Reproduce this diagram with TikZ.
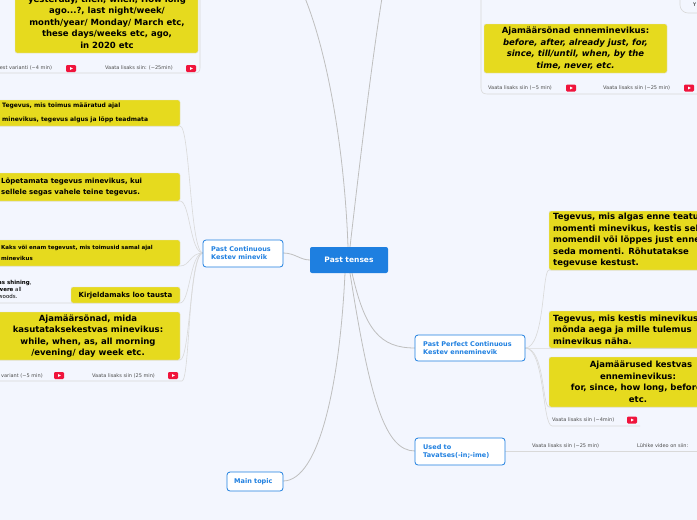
\documentclass[tikz,border=0pt]{standalone}
\usepackage{fontspec}
\setmainfont{DejaVu Sans}
\begin{document}
\begin{tikzpicture}[x=1pt,y=-1pt,
  yel/.style={fill=ybox,rounded corners=2pt,draw=black!12,line width=0.4pt},
  topic/.style={draw=tblue,fill=white,rounded corners=3pt,line width=0.8pt},
  ttxt/.style={text=tblue,font=\bfseries\fontsize{6.5}{8}\selectfont,align=left,anchor=west,inner sep=0},
  btxt/.style={font=\bfseries\fontsize{8.5}{11.5}\selectfont,align=center,inner sep=0},
  stxt/.style={font=\bfseries\fontsize{6}{14}\selectfont,align=left,anchor=west,inner sep=0},
  ftxt/.style={font=\fontsize{5}{6}\selectfont,text=black!70,anchor=west,inner sep=0},
  con/.style={draw=black!25,line width=0.8pt},
  sub/.style={draw=black!15,line width=0.6pt}]
\definecolor{ybox}{HTML}{E6DA1E}
\definecolor{tblue}{HTML}{1E7FE0}
\definecolor{bg}{HTML}{F3F6FE}
\definecolor{ytred}{HTML}{F0143C}
\newcommand{\yt}[2]{\fill[ytred,rounded corners=1.2pt] (#1,#2) rectangle ++(10,7);\fill[white] (#1+4,#2+2) -- ++(0,3) -- ++(2.8,-1.5) -- cycle;}
\fill[bg] (0,0) rectangle (697,520);
\useasboundingbox (0,0) rectangle (697,520);
\clip (0,0) rectangle (697,520);
% connectors
\coordinate (ctop1) at (305,-2);
\coordinate (ctop2) at (382,-2);
\draw[con] (348,247) .. controls (345,160) and (330,60) .. (ctop1);
\draw[con] (350,247) .. controls (360,160) and (372,60) .. (ctop2);
\draw[con] (310,260) .. controls (300,260) and (295,253) .. (283,253);
\draw[con] (345,273) .. controls (340,380) and (320,481) .. (283,481);
\draw[con] (352,273) .. controls (365,330) and (380,348) .. (415,348);
\draw[con] (350,273) .. controls (370,400) and (385,451) .. (415,451);
% left branch
\draw[sub] (200,-2) -- (200,68) .. controls (200,72) and (198,73) .. (194,73) -- (0,73);
\foreach \yy in {126,201,266,303,360}{
  \draw[sub] (203,253) .. controls (190,253) and (190,\yy) .. (180,\yy) -- (0,\yy);}
\draw[sub] (203,253) .. controls (188,253) and (190,380) .. (182,381) -- (0,381);
% right top branch
\draw[sub] (481,-2) -- (481,88) .. controls (481,92) and (483,94) .. (487,94) -- (697,94);
\draw[sub, rounded corners=8pt] (680,-2) -- (680,13) -- (697,13);
\node[font=\fontsize{5}{6}\selectfont,anchor=west,inner sep=0] at (693,5) {Y};
% PPC branch
\foreach \yy in {270,348,407}{
  \draw[sub] (525,348) .. controls (545,348) and (542,\yy) .. (549,\yy) -- (697,\yy);}
\draw[sub] (525,348) .. controls (545,348) and (542,425) .. (552,426) -- (640,426);
\draw[sub] (505,451) -- (697,451);
% center
\node[fill=tblue,rounded corners=2pt,minimum width=78pt,minimum height=26pt,text=white,font=\bfseries\fontsize{7.5}{9}\selectfont] (c) at (349,260) {Past tenses};
% topics
\draw[topic] (203,240) rectangle (283,267);
\node[ttxt] (pc) at (211,253.5) {Past Continuous\\Kestev minevik};
\draw[topic] (415,335) rectangle (525,361);
\node[ttxt] (ppc) at (423,348) {Past Perfect Continuous\\Kestev enneminevik};
\draw[topic] (415,438) rectangle (505,465);
\node[ttxt] (ut) at (423,451.5) {Used to\\Tavatses(-in;-ime)};
\draw[topic] (227,472) rectangle (283,491);
\node[ttxt] (mt) at (234,481.5) {Main topic};
% left yellow boxes
\draw[yel] (15,-10) rectangle (198,53);
\node[btxt] (y1) at (107,22) {yesterday, then, when, How long\\ago...?, last night/week/\\month/year/ Monday/ March etc,\\these days/weeks etc, ago,\\in 2020 etc};
\node[ftxt] (f1) at (-3,68) {kest varianti (\textasciitilde4 min)};
\yt{66}{65}
\node[ftxt] (f2) at (105,68) {Vaata lisaks siin: (\textasciitilde25min)};
\yt{186}{65}
\draw[yel] (-5,100) rectangle (180,126);
\node[stxt] (y2) at (2,113) {Tegevus, mis toimus määratud ajal\\minevikus, tegevus algus ja lõpp teadmata};
\draw[yel] (-5,173) rectangle (180,201);
\node[font=\fontsize{7}{11}\selectfont\bfseries,align=left,anchor=west,inner sep=0] (y3) at (1,187) {Lõpetamata tegevus minevikus, kui\\sellele segas vahele teine tegevus.};
\draw[yel] (-5,240) rectangle (180,266);
\node[font=\bfseries\fontsize{5.5}{11}\selectfont,align=left,anchor=west,inner sep=0] (y4) at (1,253) {Kaks või enam tegevust, mis toimusid samal ajal\\minevikus};
\node[font=\fontsize{5.5}{7}\selectfont,align=left,anchor=west,inner sep=0] (y5t) at (-2,289) {\textbf{as shining},\\\textbf{were} all\\woods.};
\draw[yel] (71,287) rectangle (180,303);
\node[font=\bfseries\fontsize{7}{8}\selectfont,inner sep=0] (y5) at (125.5,295.5) {Kirjeldamaks loo tausta};
\draw[yel] (-5,312) rectangle (180,360);
\node[btxt] (y6) at (88,336) {Ajamäärsõnad, mida\\kasutataksekestvas minevikus:\\while, when, as, all morning\\/evening/ day week etc.};
\node[ftxt] (f3) at (1,375.5) {variant (\textasciitilde5 min)};
\yt{54}{372}
\node[ftxt] (f4) at (92,375.5) {Vaata lisaks siin (25 min)};
\yt{168}{372}
% right top box
\draw[yel] (484,24) rectangle (667,73);
\node[btxt] (y7) at (575.5,48.5) {Ajamäärsõnad enneminevikus:\\\itshape before, after, already just, for,\\\itshape since, till/until, when, by the\\\itshape time, never, etc.};
\node[ftxt] (f5) at (488,88) {Vaata lisaks siin (\textasciitilde5 min)};
\yt{566}{84.5}
\node[ftxt] (f6) at (603,88) {Vaata lisaks siin (\textasciitilde25 min)};
\yt{684}{84.5}
% PPC children
\draw[yel] (549,211) rectangle (710,270);
\node[font=\bfseries\fontsize{8.5}{11.5}\selectfont,align=left,anchor=west,inner sep=0] (p1) at (553,240.5) {Tegevus, mis algas enne teatud\\momenti minevikus, kestis selle\\momendil või lõppes just enne\\seda momenti. Rõhutatakse\\tegevuse kestust.};
\draw[yel] (549,311) rectangle (710,348);
\node[font=\bfseries\fontsize{8.5}{11.5}\selectfont,align=left,anchor=west,inner sep=0] (p2) at (553,329.5) {Tegevus, mis kestis minevikus\\mõnda aega ja mille tulemus\\minevikus näha.};
\draw[yel] (549,357) rectangle (710,407);
\node[btxt] (p3) at (638,382) {\hspace*{6pt}Ajamäärused kestvas\\enneminevikus:\\for, since, how long, before,\\etc.};
\node[ftxt] (f7) at (552,420) {Vaata lisaks siin (\textasciitilde4min)};
\yt{627}{416.5}
\node[ftxt] (f8) at (532,445.5) {Vaata lisaks siin (\textasciitilde25 min)};
\node[ftxt] (f9) at (637,445.5) {Lühike video on siin:};
\end{tikzpicture}
\end{document}
